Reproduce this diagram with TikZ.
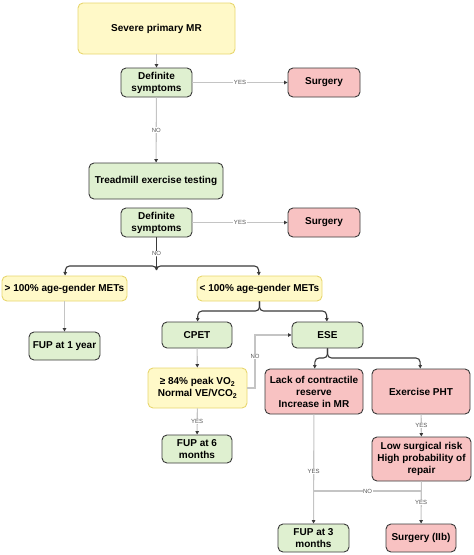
\documentclass[tikz,border=0pt]{standalone}
\usepackage{fontspec}
\setmainfont{Liberation Sans}
\usetikzlibrary{arrows.meta}
\definecolor{yfill}{HTML}{FFF9C8}
\definecolor{ydraw}{HTML}{E8D66E}
\definecolor{gfill}{HTML}{DFF0D0}
\definecolor{rfill}{HTML}{F8C2C2}
\definecolor{bdark}{HTML}{3A3A3A}
\definecolor{lgray}{HTML}{C4C4C4}
\definecolor{lbl}{HTML}{555555}
\begin{document}
\begin{tikzpicture}[x=1pt,y=-1pt,
  box/.style={rounded corners=5pt, line width=0.9pt, align=center, inner sep=1pt,
    font=\fontsize{10}{12}\selectfont\bfseries},
  ybox/.style={box, fill=yfill, draw=ydraw},
  gbox/.style={box, fill=gfill, draw=bdark},
  rbox/.style={box, fill=rfill, draw=bdark},
  sz/.style 2 args={minimum width=#1pt, minimum height=#2pt},
  gl/.style={draw=lgray, line width=1.1pt, -{Triangle[length=3.5pt,width=3.5pt,color=bdark]}},
  dl/.style={draw=bdark, line width=1.1pt, rounded corners=4pt, -{Triangle[length=3.5pt,width=3.5pt,color=bdark]}},
  lab/.style={font=\fontsize{6}{7}\selectfont, text=lbl, fill=white, inner sep=0.5pt}
]
\useasboundingbox (0,0) rectangle (474,555);
\node[ybox, sz={157}{51}] (smr) at (156.5,28.5) {Severe primary MR};
\node[gbox, sz={71}{29}] (ds1) at (156.5,82.5) {Definite\\symptoms};
\node[rbox, sz={72}{29}] (s1) at (324,82.5) {Surgery};
\node[gbox, sz={134}{36}] (tm) at (156,181) {Treadmill exercise testing};
\node[gbox, sz={71}{29}] (ds2) at (156.5,222.5) {Definite\\symptoms};
\node[rbox, sz={72}{29}] (s2) at (324,222.5) {Surgery};
\node[ybox, sz={125}{25}] (gt) at (64.5,288.5) {> 100\% age-gender METs};
\node[ybox, sz={125}{25}] (lt) at (259.5,288.5) {< 100\% age-gender METs};
\node[gbox, sz={71}{28}] (fup1) at (64.5,346) {FUP at 1 year};
\node[gbox, sz={70}{26}] (cpet) at (197,335) {CPET};
\node[gbox, sz={71}{26}] (ese) at (327.5,335) {ESE};
\node[ybox, sz={99}{40}] (vo2) at (197.5,388) {≥ 84\% peak VO\textsubscript{2}\\Normal VE/VCO\textsubscript{2}};
\node[rbox, sz={98}{45}] (lack) at (314,391.5) {Lack of contractile\\reserve\\Increase in MR};
\node[rbox, sz={98}{45}] (pht) at (421,391.5) {Exercise PHT};
\node[gbox, sz={70}{28}] (fup6) at (197,449) {FUP at 6\\months};
\node[rbox, sz={99}{44}] (low) at (421.5,459) {Low surgical risk\\High probability of\\repair};
\node[gbox, sz={71}{28}] (fup3) at (313.5,538) {FUP at 3\\months};
\node[rbox, sz={70}{28}] (sur3) at (421,538) {Surgery (IIb)};

\coordinate (j1) at (156.5,266);
\coordinate (j2) at (259.5,311);
\coordinate (j3) at (327.5,358);
\coordinate (nb) at (255,388);
\coordinate (nl) at (421.5,491);
\coordinate (nr) at (313.5,491);

\draw[gl] (smr) -- (ds1);
\draw[gl] (ds1) -- node[lab]{YES} (s1);
\draw[gl] (ds1) -- node[lab, pos=0.5]{NO} (tm);
\draw[gl] (ds2) -- node[lab]{YES} (s2);
\draw[dl] (ds2) -- node[lab]{NO} ([yshift=-4pt]j1);
\draw[dl] ([yshift=-4pt]j1) |- ([xshift=1pt]j1 -| gt) -- (gt);
\draw[dl] ([yshift=-4pt]j1) |- ([xshift=-1pt]j1 -| lt) -- (lt);
\draw[gl] (gt) -- (fup1);
\draw[dl] (lt) |- ([xshift=1pt]j2 -| cpet) -- (cpet);
\draw[dl] (lt) |- ([xshift=-1pt]j2 -| ese) -- (ese);
\draw[gl] (cpet) -- (vo2);
\draw[gl] (vo2.east) -- (nb) |- node[lab, pos=0.3]{NO} (ese.west);
\draw[gl] (vo2) -- node[lab]{YES} (fup6);
\draw[dl] (ese) |- ([xshift=1pt]j3 -| lack) -- (lack);
\draw[dl] (ese) |- ([xshift=-1pt]j3 -| pht) -- (pht);
\draw[gl] (lack) -- node[lab, pos=0.52]{YES} (fup3);
\draw[gl] (pht) -- node[lab]{YES} (low);
\draw[gl] (low) -- node[lab, pos=0.5]{YES} (sur3);
\draw[draw=lgray, line width=1.1pt] (nl) -- node[lab]{NO} (nr);
\end{tikzpicture}
\end{document}
